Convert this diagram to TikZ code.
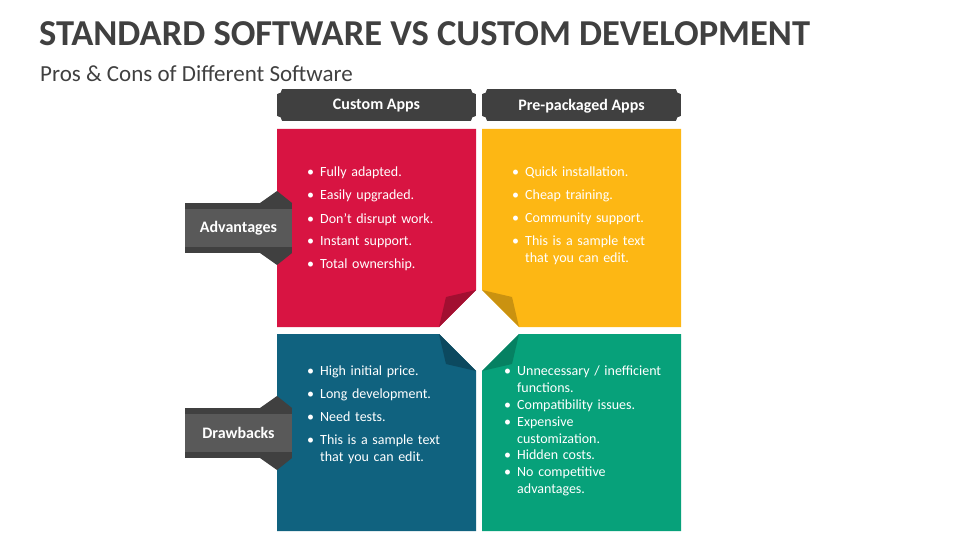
\documentclass[tikz,border=0pt]{standalone}
\usepackage{fontspec}
\setmainfont{Carlito}
\definecolor{cred}{HTML}{D81442}
\definecolor{cyel}{HTML}{FDB714}
\definecolor{cblu}{HTML}{10627F}
\definecolor{cgrn}{HTML}{07A17A}
\definecolor{chead}{HTML}{404040}
\definecolor{clab}{HTML}{595959}
\tikzset{
  item/.style={anchor=north west,text=white,font=\fontsize{14}{16.5}\selectfont,
    align=left,inner sep=0pt,text width=160pt},
  headtxt/.style={text=white,font=\bfseries\fontsize{16}{18}\selectfont},
  labbox/.style={fill=clab,minimum width=107pt,minimum height=38pt,inner sep=0pt,
    text=white,font=\bfseries\fontsize{16}{18}\selectfont}
}
\newcommand{\bl}[2]{\node[item] at (#1) {\llap{\textbullet\hspace{6pt}}#2};}
\begin{document}
\begin{tikzpicture}[x=1pt,y=-1pt]
\useasboundingbox (0,0) rectangle (960,540);
% title
\node[anchor=west,inner sep=0pt,text=chead,font=\bfseries\fontsize{36.5}{40}\selectfont] (title) at (39,34) {STANDARD SOFTWARE VS CUSTOM DEVELOPMENT};
\node[anchor=west,inner sep=0pt,text=chead,font=\fontsize{23}{26}\selectfont] (sub) at (40,74) {Pros \& Cons of Different Software};
% headers
\foreach \x/\t/\n in {277/Custom Apps/hc,482/Pre-packaged Apps/hp}{
  \fill[chead] (\x,89) rectangle (\x+199,121);
  \foreach \cx/\cy in {\x/89,\x+199/89,\x/121,\x+199/121}
    \fill[white] (\cx,\cy) circle (5);
  \node[headtxt] (\n) at (\x+99.5,106) {\t};
}
% quadrants
\fill[cred] (277,129) -- (476,129) -- (476,290) -- (439,327) -- (277,327) -- cycle;
\fill[cred!75!black] (439,327) -- (446,297) -- (476,290) -- cycle;
\fill[cyel] (482,129) -- (681,129) -- (681,327) -- (519,327) -- (482,290) -- cycle;
\fill[cyel!80!black] (519,327) -- (512,297) -- (482,290) -- cycle;
\fill[cblu] (277,334) -- (439,334) -- (476,371) -- (476,531) -- (277,531) -- cycle;
\fill[cblu!75!black] (439,334) -- (446,364) -- (476,371) -- cycle;
\fill[cgrn] (519,334) -- (681,334) -- (681,531) -- (482,531) -- (482,371) -- cycle;
\fill[cgrn!80!black] (519,334) -- (512,364) -- (482,371) -- cycle;
% row labels
\foreach \y/\t/\n in {228/Advantages/ladv,433/Drawbacks/ldrw}{
  \fill[chead] (277,\y-37) -- (292,\y-25) -- (260,\y-25) -- cycle;
  \fill[chead] (277,\y+37) -- (292,\y+25) -- (260,\y+25) -- cycle;
  \fill[chead] (185,\y-25) rectangle (292,\y+25);
  \node[labbox] (\n) at (238.5,\y) {\t};
}
% texts
\bl{320,167}{Fully adapted.}
\bl{320,190}{Easily upgraded.}
\bl{320,213}{Don’t disrupt work.}
\bl{320,236}{Instant support.}
\bl{320,259}{Total ownership.}
\bl{525,167}{Quick installation.}
\bl{525,190}{Cheap training.}
\bl{525,213}{Community support.}
\bl{525,236}{This is a sample text\\that you can edit.}
\bl{320,366}{High initial price.}
\bl{320,389}{Long development.}
\bl{320,412}{Need tests.}
\bl{320,435}{This is a sample text\\that you can edit.}
\bl{517,366}{Unnecessary / inefficient\\functions.}
\bl{517,400}{Compatibility issues.}
\bl{517,417}{Expensive\\customization.}
\bl{517,450}{Hidden costs.}
\bl{517,467}{No competitive\\advantages.}
\end{tikzpicture}
\end{document}
